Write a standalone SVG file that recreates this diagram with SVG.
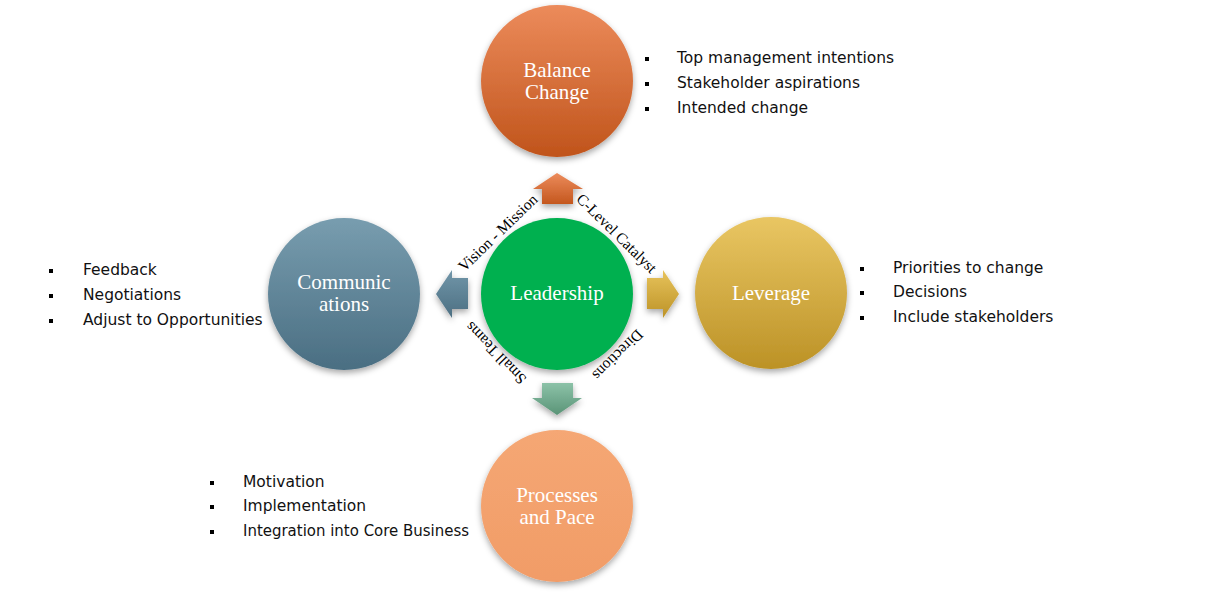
<svg xmlns="http://www.w3.org/2000/svg" width="1210" height="616" viewBox="0 0 1210 616">
<defs>
<linearGradient id="gOrange" x1="0" y1="0" x2="0" y2="1"><stop offset="0" stop-color="#EC8B5B"/><stop offset="1" stop-color="#C0541B"/></linearGradient>
<linearGradient id="gBlue" x1="0" y1="0" x2="0" y2="1"><stop offset="0" stop-color="#789DAF"/><stop offset="1" stop-color="#4A6E82"/></linearGradient>
<linearGradient id="gGold" x1="0" y1="0" x2="0" y2="1"><stop offset="0" stop-color="#E9C663"/><stop offset="1" stop-color="#BC9226"/></linearGradient>
<linearGradient id="gPeach" x1="0" y1="0" x2="0" y2="1"><stop offset="0" stop-color="#F5A774"/><stop offset="1" stop-color="#F19C67"/></linearGradient>
<linearGradient id="gGreenA" x1="0" y1="0" x2="0" y2="1"><stop offset="0" stop-color="#8CC2A8"/><stop offset="1" stop-color="#5A9477"/></linearGradient>
<linearGradient id="gOrangeA" x1="0" y1="0" x2="0" y2="1"><stop offset="0" stop-color="#EC8B5B"/><stop offset="1" stop-color="#C4571E"/></linearGradient>
<linearGradient id="gBlueA" x1="0" y1="0" x2="0" y2="1"><stop offset="0" stop-color="#7196A9"/><stop offset="1" stop-color="#4C6F82"/></linearGradient>
<linearGradient id="gGoldA" x1="0" y1="0" x2="0" y2="1"><stop offset="0" stop-color="#E7C35C"/><stop offset="1" stop-color="#BD9327"/></linearGradient>
<filter id="shadow" x="-20%" y="-20%" width="140%" height="150%">
<feDropShadow dx="0" dy="3" stdDeviation="3" flood-color="#000" flood-opacity="0.35"/>
</filter>
<style>
.lbl{font-family:"Liberation Serif","DejaVu Serif",serif;font-size:21px;fill:#fff;text-anchor:middle}
.diag{font-family:"Liberation Serif","DejaVu Serif",serif;font-size:15.5px;fill:#000;text-anchor:middle}
.li{font-family:"DejaVu Sans","Liberation Sans",sans-serif;font-size:15.5px;fill:#111}
.bul{fill:#000}
</style>
</defs>
<rect width="1210" height="616" fill="#fff"/>

<g id="connectors" filter="url(#shadow)">
<polygon points="557,173 583,189 573,189 573,204 542,204 542,189 533,189" fill="url(#gOrangeA)"/>
<polygon points="436,294 452,270 452,278 468,278 468,309 452,309 452,318" fill="url(#gBlueA)"/>
<polygon points="679,294 663,270 663,278 647,278 647,309 663,309 663,318" fill="url(#gGoldA)"/>
<polygon points="557,415 582,398 573,398 573,383 542,383 542,398 532,398" fill="url(#gGreenA)"/>
</g>

<g id="node-leadership">
<circle cx="557" cy="294" r="76" fill="#00B050" filter="url(#shadow)"/>
<text class="lbl" x="557" y="300">Leadership</text>
</g>

<g id="leadership-labels">
<text class="diag" x="557" y="214" transform="rotate(-44 557 294)">Vision - Mission</text>
<text class="diag" x="557" y="214" transform="rotate(44.5 557 294)">C-Level Catalyst</text>
<text class="diag" x="557" y="213" transform="rotate(135 557 294)">Directions</text>
<text class="diag" x="557" y="214" transform="rotate(-134 557 294)">Small Teams</text>
</g>

<g id="node-balance">
<circle cx="557" cy="81" r="76" fill="url(#gOrange)" filter="url(#shadow)"/>
<text class="lbl" x="557" y="77">Balance</text>
<text class="lbl" x="557" y="99">Change</text>
</g>

<g id="node-communications">
<circle cx="344" cy="294" r="76" fill="url(#gBlue)" filter="url(#shadow)"/>
<text class="lbl" x="344" y="289">Communic</text>
<text class="lbl" x="344" y="311">ations</text>
</g>

<g id="node-leverage">
<circle cx="771" cy="293" r="76" fill="url(#gGold)" filter="url(#shadow)"/>
<text class="lbl" x="771" y="300">Leverage</text>
</g>

<g id="node-processes">
<circle cx="557" cy="506" r="76" fill="url(#gPeach)" filter="url(#shadow)"/>
<text class="lbl" x="557" y="502">Processes</text>
<text class="lbl" x="557" y="524">and Pace</text>
</g>

<g id="list-balance">
<rect class="bul" x="645" y="57" width="4" height="4"/>
<rect class="bul" x="645" y="82" width="4" height="4"/>
<rect class="bul" x="645" y="107" width="4" height="4"/>
<text class="li" x="677" y="63">Top management intentions</text>
<text class="li" x="677" y="88">Stakeholder aspirations</text>
<text class="li" x="677" y="113">Intended change</text>
</g>

<g id="list-communications">
<rect class="bul" x="49" y="269" width="4" height="4"/>
<rect class="bul" x="49" y="294" width="4" height="4"/>
<rect class="bul" x="49" y="319" width="4" height="4"/>
<text class="li" x="83" y="275">Feedback</text>
<text class="li" x="83" y="300">Negotiations</text>
<text class="li" x="83" y="325">Adjust to Opportunities</text>
</g>

<g id="list-leverage">
<rect class="bul" x="860" y="267" width="4" height="4"/>
<rect class="bul" x="860" y="291" width="4" height="4"/>
<rect class="bul" x="860" y="316" width="4" height="4"/>
<text class="li" x="893" y="273">Priorities to change</text>
<text class="li" x="893" y="297">Decisions</text>
<text class="li" x="893" y="322">Include stakeholders</text>
</g>

<g id="list-processes">
<rect class="bul" x="210" y="481" width="4" height="4"/>
<rect class="bul" x="210" y="505" width="4" height="4"/>
<rect class="bul" x="210" y="530" width="4" height="4"/>
<text class="li" x="243" y="487">Motivation</text>
<text class="li" x="243" y="511">Implementation</text>
<text class="li" x="243" y="536" textLength="226" lengthAdjust="spacingAndGlyphs">Integration into Core Business</text>
</g>
</svg>
